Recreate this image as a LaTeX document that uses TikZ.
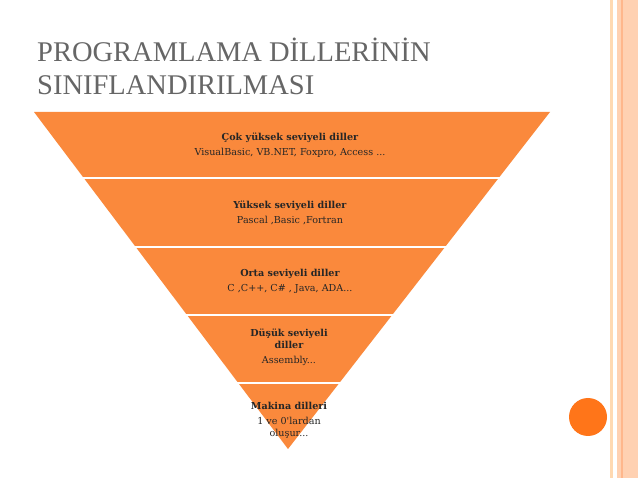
\documentclass[tikz,border=0pt]{standalone}
\usepackage{fontspec}
\setmainfont{Liberation Serif}
\newfontfamily\bandfont{DejaVu Serif}
\begin{document}
\begin{tikzpicture}[x=1pt,y=-1pt,
  band/.style={font=\bandfont\fontsize{9.6}{12}\selectfont,text=black!85,align=center},
  ttl/.style={font=\fontsize{28.5}{33}\selectfont,text=black!60,align=left,anchor=north west,inner sep=0}]
\useasboundingbox (0,0) rectangle (638,478);
\fill[white] (0,0) rectangle (638,478);
% right border
\fill[orange!30!white] (610,0) rectangle (613,478);
\fill[red!20!orange!30!white] (617,0) rectangle (638,478);
\fill[red!25!orange!45!white] (621,0) rectangle (623,478);
\fill[orange!80!red!90!white] (588,417) circle (19);
% title
\node[ttl] (title) at (37,38) {PROGRAMLAMA DİLLERİNİN\\SINIFLANDIRILMASI};
% funnel
\fill[fill={rgb,255:red,250;green,137;blue,60}] (34,112) -- (550,112) -- (288,449) -- cycle;
\foreach \y in {178,247,315,383}{
  \draw[white,line width=2pt] (20,\y) -- (560,\y);}
\node[band] (b1) at (290,145) {\textbf{Çok yüksek seviyeli diller}\\[3pt]VisualBasic, VB.NET, Foxpro, Access ...};
\node[band] (b2) at (290,213) {\textbf{Yüksek seviyeli diller}\\[3pt]Pascal ,Basic ,Fortran};
\node[band] (b3) at (290,281) {\textbf{Orta seviyeli diller}\\[3pt]C ,C++, C\# , Java, ADA...};
\node[band] (b4) at (289,347) {\textbf{Düşük seviyeli}\\\textbf{diller}\\[3pt]Assembly...};
\node[band] (b5) at (289,420) {\textbf{Makina dilleri}\\[3pt]1 ve 0\symbol{"27}lardan\\oluşur...};
\end{tikzpicture}
\end{document}
